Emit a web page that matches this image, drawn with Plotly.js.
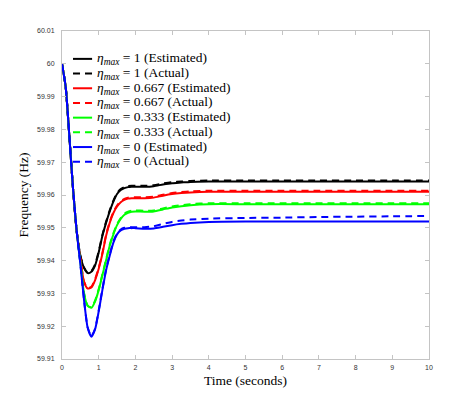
<!DOCTYPE html>
<html>
<head>
<meta charset="utf-8">
<script src="https://cdn.plot.ly/plotly-3.0.1.min.js"></script>
<style>
  html, body { margin: 0; padding: 0; background: #fff; }
  #plot_area { width: 474px; height: 404px; }
</style>
</head>
<body>
<div id="plot_area"></div>
<script>
// Time samples (seconds)
const time = [0, 0.1, 0.2, 0.3, 0.4, 0.5, 0.6, 0.7, 0.8, 0.9, 1.0, 1.1, 1.2, 1.3, 1.4, 1.5, 1.6, 1.7, 1.8, 1.9, 2.0, 2.25, 2.5, 2.75, 3.0, 3.25, 3.5, 4, 5, 6, 7, 8, 9, 10];

// Frequency (Hz)
const eta1Est = [60, 59.993, 59.978, 59.962, 59.949, 59.9415, 59.9378, 59.9362, 59.9366, 59.9385, 59.9425, 59.9475, 59.9515, 59.955, 59.958, 59.9603, 59.9615, 59.9621, 59.9624, 59.9625, 59.9625, 59.9625, 59.9627, 59.9632, 59.9636, 59.9638, 59.964, 59.9641, 59.9641, 59.9641, 59.9641, 59.9641, 59.9641, 59.9641];
const eta1Act = [60, 59.993, 59.978, 59.962, 59.949, 59.9415, 59.9379, 59.9363, 59.9368, 59.9388, 59.9428, 59.9478, 59.9518, 59.9553, 59.9583, 59.9606, 59.9618, 59.9624, 59.9627, 59.9628, 59.9628, 59.9628, 59.963, 59.9635, 59.9639, 59.9641, 59.9643, 59.9644, 59.9644, 59.9644, 59.9644, 59.9644, 59.9644, 59.9644];

const eta667Est = [60, 59.993, 59.978, 59.962, 59.949, 59.9405, 59.9335, 59.9315, 59.9318, 59.934, 59.9375, 59.942, 59.9475, 59.9515, 59.9545, 59.9565, 59.9578, 59.9585, 59.9589, 59.959, 59.959, 59.959, 59.9592, 59.9598, 59.9603, 59.9606, 59.9608, 59.961, 59.961, 59.961, 59.961, 59.961, 59.961, 59.961];
const eta667Act = [60, 59.993, 59.978, 59.962, 59.949, 59.9405, 59.9336, 59.9316, 59.932, 59.9343, 59.9378, 59.9423, 59.9478, 59.9518, 59.9548, 59.9568, 59.9581, 59.9588, 59.9592, 59.9593, 59.9593, 59.9593, 59.9595, 59.9601, 59.9606, 59.9609, 59.9611, 59.9613, 59.9613, 59.9613, 59.9613, 59.9613, 59.9613, 59.9613];

const eta333Est = [60, 59.993, 59.978, 59.962, 59.949, 59.9395, 59.930, 59.9262, 59.9256, 59.9275, 59.931, 59.9355, 59.940, 59.9445, 59.948, 59.9508, 59.9527, 59.954, 59.9546, 59.9549, 59.955, 59.9549, 59.955, 59.9556, 59.9562, 59.9566, 59.9569, 59.9572, 59.9572, 59.9572, 59.9572, 59.9572, 59.9572, 59.9572];
const eta333Act = [60, 59.993, 59.978, 59.962, 59.949, 59.9395, 59.9301, 59.9263, 59.9258, 59.9278, 59.9313, 59.9358, 59.9403, 59.9448, 59.9483, 59.9511, 59.953, 59.9543, 59.9549, 59.9552, 59.9553, 59.9552, 59.9553, 59.9559, 59.9565, 59.9569, 59.9572, 59.9575, 59.9575, 59.9575, 59.9575, 59.9575, 59.9575, 59.9575];

const eta0Est = [60, 59.993, 59.978, 59.962, 59.949, 59.939, 59.928, 59.9195, 59.9168, 59.919, 59.9245, 59.931, 59.937, 59.9415, 59.9455, 59.948, 59.9492, 59.9497, 59.9499, 59.9499, 59.9499, 59.9497, 59.9498, 59.9503, 59.9508, 59.9512, 59.9515, 59.9518, 59.9519, 59.9519, 59.9519, 59.9519, 59.9519, 59.9519];
const eta0Act = [60, 59.993, 59.978, 59.962, 59.949, 59.939, 59.9281, 59.9196, 59.917, 59.9192, 59.9248, 59.9313, 59.9373, 59.9418, 59.9458, 59.9483, 59.9495, 59.95, 59.9502, 59.9502, 59.9502, 59.9502, 59.9505, 59.9512, 59.9518, 59.9522, 59.9525, 59.9528, 59.953, 59.9531, 59.9533, 59.9534, 59.9535, 59.9536];

const etaLabels = ['1', '1', '0.667', '0.667', '0.333', '0.333', '0', '0'];
const kinds = ['Estimated', 'Actual', 'Estimated', 'Actual', 'Estimated', 'Actual', 'Estimated', 'Actual'];
const seriesValues = [eta1Est, eta1Act, eta667Est, eta667Act, eta333Est, eta333Act, eta0Est, eta0Act];
const colors = ['#000000', '#000000', '#ff0000', '#ff0000', '#00ff00', '#00ff00', '#0000ff', '#0000ff'];

const serif = 'Liberation Serif, Times New Roman, serif';
const dashPattern = '7px,5px';

const traces = seriesValues.map((values, i) => ({
    x: time,
    y: values,
    type: 'scatter',
    mode: 'lines',
    line: { color: colors[i], width: 2, dash: kinds[i] === 'Actual' ? dashPattern : 'solid', shape: 'spline', smoothing: 0.6 },
    name: `<i>η</i><sub><i>max</i></sub> = ${etaLabels[i]} (${kinds[i]})`,
    showlegend: false
}));

// Legend drawn by hand: plotly's legend rows are too tall for this compact MATLAB-style legend
const legendLeft = 0.03;   // paper x of the line sample start
const legendTop = 0.915;   // paper y of the first row
const rowStep = 0.0448;    // paper units between rows
const sampleLen = 0.052;

const legendShapes = traces.map((tr, i) => ({
    type: 'line',
    xref: 'paper', yref: 'paper',
    x0: legendLeft, x1: legendLeft + sampleLen,
    y0: legendTop - i * rowStep, y1: legendTop - i * rowStep,
    line: { color: tr.line.color, width: 2, dash: tr.line.dash }
}));

const legendTexts = traces.map((tr, i) => ({
    xref: 'paper', yref: 'paper',
    x: legendLeft + sampleLen + 0.008,
    y: legendTop - i * rowStep,
    xanchor: 'left', yanchor: 'middle',
    showarrow: false,
    text: tr.name,
    font: { family: serif, size: 13.5, color: '#000' }
}));

const axisStyle = {
    showgrid: false,
    zeroline: false,
    showline: true,
    linecolor: '#c4c4c4',
    linewidth: 1,
    mirror: 'ticks',
    ticks: 'inside',
    ticklen: 4,
    tickcolor: '#c4c4c4',
    tickfont: { family: 'Liberation Sans, Arial, sans-serif', size: 7, color: '#333' }
};

const layout = {
    width: 474,
    height: 404,
    margin: { t: 31, l: 62, r: 45, b: 45 },
    paper_bgcolor: '#ffffff',
    plot_bgcolor: '#ffffff',
    showlegend: false,
    shapes: legendShapes,
    annotations: legendTexts,
    xaxis: Object.assign({}, axisStyle, {
        range: [0, 10],
        tickmode: 'linear',
        tick0: 0,
        dtick: 1,
        ticklabelstandoff: 2,
        title: { text: 'Time (seconds)', font: { family: serif, size: 13.5, color: '#000' }, standoff: 5 }
    }),
    yaxis: Object.assign({}, axisStyle, {
        range: [59.91, 60.01],
        tickmode: 'linear',
        tick0: 59.91,
        dtick: 0.01,
        ticklabelstandoff: 5,
        title: { text: 'Frequency (Hz)', font: { family: serif, size: 13.5, color: '#000' }, standoff: 5 }
    })
};

Plotly.newPlot('plot_area', traces, layout, { displayModeBar: false, staticPlot: true });
</script>
</body>
</html>
